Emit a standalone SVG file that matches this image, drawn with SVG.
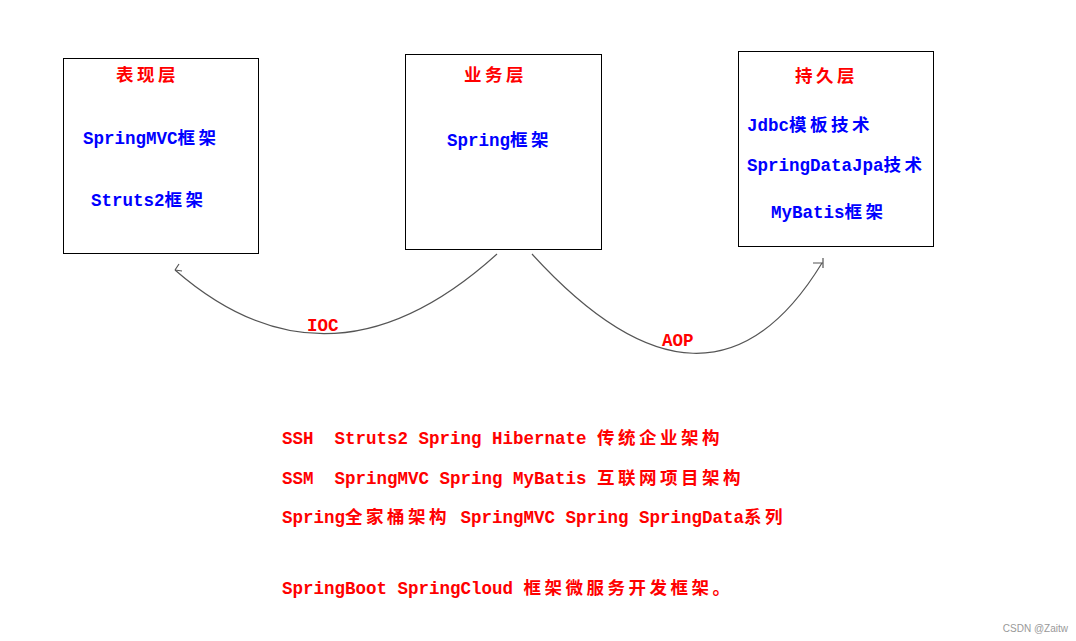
<svg xmlns="http://www.w3.org/2000/svg" width="1076" height="641" viewBox="0 0 1076 641">
<style>
.box{fill:#fff;stroke:#000;stroke-width:1}
.t{font-family:"Liberation Mono","Noto Sans CJK SC",monospace;font-weight:bold;font-size:17.5px;white-space:pre}
.k{letter-spacing:3.5px}
.r{fill:#ff0000}.b{fill:#0000ff}
.c{fill:none;stroke:#555;stroke-width:1.2}
</style>
<rect width="1076" height="641" fill="#fff"/>
<g id="n1"><rect class="box" x="63.5" y="58.5" width="195" height="195"/>
<text class="t r k" x="116" y="81">表现层</text>
<text class="t b" x="83" y="144">SpringMVC<tspan class="k">框架</tspan></text>
<text class="t b" x="91" y="206">Struts2<tspan class="k">框架</tspan></text></g>
<g id="n2"><rect class="box" x="405.5" y="54.5" width="196" height="195"/>
<text class="t r k" x="464" y="81">业务层</text>
<text class="t b" x="447" y="146">Spring<tspan class="k">框架</tspan></text></g>
<g id="n3"><rect class="box" x="738.5" y="51.5" width="195" height="195"/>
<text class="t r k" x="795" y="82">持久层</text>
<text class="t b" x="747" y="131">Jdbc<tspan class="k">模板技术</tspan></text>
<text class="t b" x="747" y="171">SpringDataJpa<tspan class="k">技术</tspan></text>
<text class="t b" x="771" y="218">MyBatis<tspan class="k">框架</tspan></text></g>
<g id="connectors">
<path class="c" d="M497,254 Q330,405 175,270"/>
<path class="c" d="M175,270 l4,-6 M175,270 l7,1"/>
<path class="c" d="M532,254 Q709,448 822,263"/>
<path class="c" d="M813,263 h10 M823,258 v10"/>
<text class="t r" x="307" y="331">IOC</text>
<text class="t r" x="662" y="346">AOP</text>
</g>
<g id="notes">
<text class="t r" x="282" y="444" xml:space="preserve">SSH  Struts2 Spring Hibernate <tspan class="k">传统企业架构</tspan></text>
<text class="t r" x="282" y="484" xml:space="preserve">SSM  SpringMVC Spring MyBatis <tspan class="k">互联网项目架构</tspan></text>
<text class="t r" x="282" y="523">Spring<tspan class="k">全家桶架构</tspan> SpringMVC Spring SpringData<tspan class="k">系列</tspan></text>
<text class="t r" x="282" y="594">SpringBoot SpringCloud <tspan class="k">框架微服务开发框架。</tspan></text>
</g>
<text x="1068" y="632" text-anchor="end" font-family="Liberation Sans,sans-serif" font-size="10" fill="#999">CSDN @Zaitw</text>
</svg>
